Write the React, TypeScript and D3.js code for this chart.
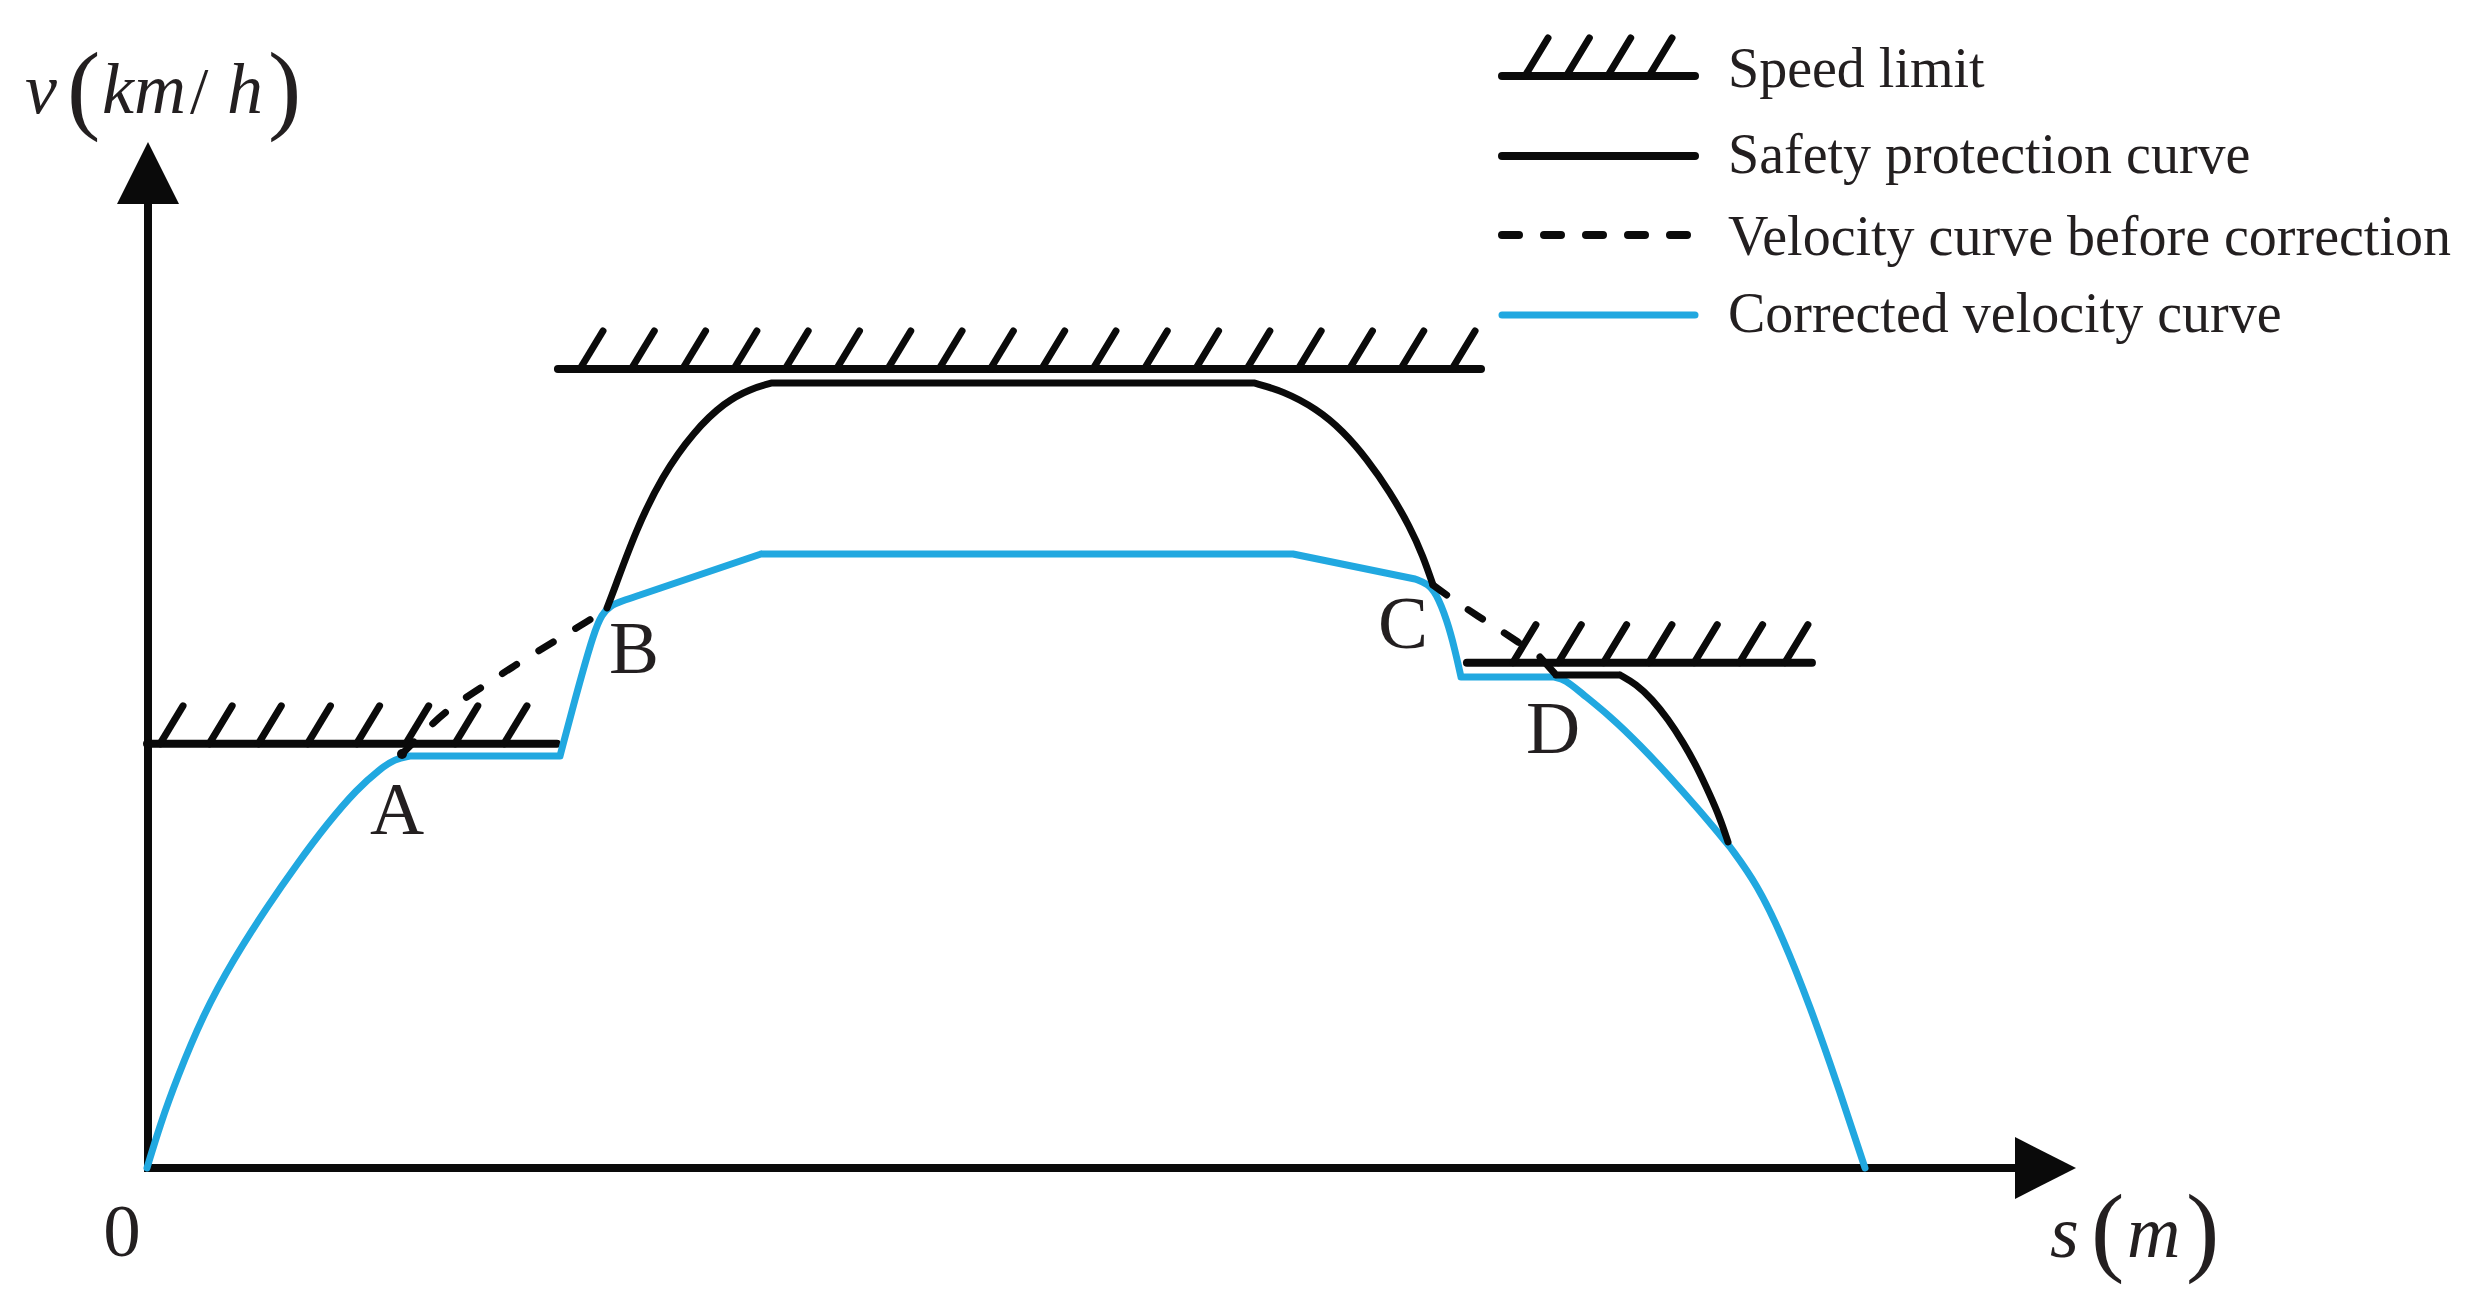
import React from 'react';
import * as d3 from 'd3';

const W = 2478;
const H = 1311;

type P = [number, number];

// ---------- data (s in m, v in km/h) ----------
// Corrected velocity curve, piece by piece (corners between pieces)
const correctedAccel: P[] = [[0, 0], [7.57, 6.46], [17.46, 13.52], [32.6, 22.98], [50.06, 31.24], [69.85, 39.2], [87.31, 45.66], [104.77, 51.67], [122.23, 56.92], [135.62, 59.93], [144.35, 61.43], [153.08, 61.88]];
const correctedHoldA: P[] = [[153.08, 61.88], [240.4, 61.88]];
const correctedRiseB: P[] = [[240.4, 61.88], [250.87, 72.09], [260.19, 80.5], [264.84, 83.21], [269.5, 84.41], [276.48, 85.16], [286.96, 86.06]];
const correctedRamp: P[] = [[286.96, 86.06], [357.39, 92.22]];
const correctedCruise: P[] = [[357.39, 92.22], [667.05, 92.22]];
const correctedSlowC: P[] = [[667.05, 92.22], [738.07, 88.46]];
const correctedDropC: P[] = [[738.07, 88.46], [745.63, 87.71], [750.29, 86.36], [756.69, 82.31], [761.35, 77.8], [764.84, 73.75]];
const correctedHoldD: P[] = [[764.84, 73.75], [818.39, 73.75]];
const correctedBrake1: P[] = [[818.39, 73.75], [825.96, 73.3], [834.11, 71.49], [851.57, 67.89], [869.03, 63.53], [886.5, 58.73], [903.96, 53.62], [921.42, 48.21]];
const correctedBrake2: P[] = [[921.42, 48.21], [937.14, 42.66], [952.27, 34.55], [967.99, 24.33], [983.7, 12.77], [1000, 0]];

// Safety protection curve
const safetyRise: P[] = [[267.75, 84.11], [271.83, 86.81], [284.63, 95.82], [299.77, 103.93], [318.39, 110.69], [336.44, 115.05], [350.99, 117.0], [363.8, 117.9]];
const safetyHold: P[] = [[363.8, 117.9], [644.35, 117.9]];
const safetyDrop: P[] = [[644.35, 117.9], [661.23, 116.7], [681.02, 114.0], [696.16, 110.69], [710.13, 106.49], [723.52, 101.53], [735.16, 96.27], [742.72, 91.92], [748.54, 87.56]];
const safetyToD: P[] = [[810.83, 76.75], [820.14, 74.05]];
const safetyHoldD: P[] = [[820.14, 74.05], [857.39, 74.05]];
const safetyDropD: P[] = [[857.39, 74.05], [866.71, 72.69], [876.02, 70.44], [885.33, 67.44], [894.06, 63.98], [902.21, 60.23], [909.78, 56.02], [915.6, 52.57], [920.26, 48.96]];

// Velocity curve before correction
const beforeAB: P[] = [[148.43, 62.18], [166.47, 66.84], [174.62, 68.64], [185.1, 70.59], [195.0, 72.24], [206.64, 74.2], [215.37, 75.7], [227.01, 77.5], [236.32, 79.0], [247.96, 80.81], [257.86, 82.31], [267.75, 84.11]];
const beforeCD: P[] = [[748.54, 87.56], [759.6, 85.46], [768.33, 83.96], [779.98, 82.01], [789.29, 80.5], [800.35, 78.6], [810.83, 76.75]];

// Speed limits
const limitStartS = [0, 239.2, 768.3];
const limitEndS = [238.6, 776.5, 969.1];
const limitV = [63.7, 120, 75.9];
const limitHatchCount = [8, 18, 7];

// Key points
const pointNames = ['A', 'B', 'C', 'D'];
const pointS = [148.43, 267.75, 748.54, 810.83];
const pointV = [62.18, 84.11, 87.56, 76.75];

const legendLabels = ['Speed limit', 'Safety protection curve', 'Velocity curve before correction', 'Corrected velocity curve'];

// ---------- styles ----------
const BLACK = '#0a0a0a';
const BLUE = '#21a8e0';
const TEXT = '#231f20';
const FONT = '"Liberation Serif", "Times New Roman", serif';
const hatchInsets = [[13, 53], [22, 29], [46, 27]];
const labelStyle = [
  { anchor: 'middle', dx: -5, dy: 80 },
  { anchor: 'start', dx: 2, dy: 65 },
  { anchor: 'end', dx: -5, dy: 63 },
  { anchor: 'middle', dx: 13, dy: 96 },
];

function hatchLines(x0: number, x1: number, y: number, n: number, key: string) {
  const out: JSX.Element[] = [];
  for (let i = 0; i < n; i++) {
    const x = n === 1 ? x0 : x0 + ((x1 - x0) * i) / (n - 1);
    out.push(
      <line key={key + i} x1={x} y1={y} x2={x + 23} y2={y - 38} stroke={BLACK} strokeWidth={7} strokeLinecap="round" />
    );
  }
  return out;
}

export default function App() {
  const xs = d3.scaleLinear().domain([0, 1000]).range([147, 1865]);
  const ys = d3.scaleLinear().domain([0, 120]).range([1168, 369]);
  const smooth = d3.line<P>().x((d) => xs(d[0])).y((d) => ys(d[1])).curve(d3.curveBasis);
  const straight = d3.line<P>().x((d) => xs(d[0])).y((d) => ys(d[1]));
  const pathOf = (pieces: P[][]) =>
    pieces.map((p) => (p.length > 2 ? smooth(p) : straight(p)) || '').join(' ');

  const ox = xs(0);
  const oy = ys(0);

  const legendX0 = 1502;
  const legendX1 = 1695;
  const legendRowY = [76, 156, 235, 315];
  const legendTextY = [87, 173, 255, 332];

  const corrected = pathOf([
    correctedAccel, correctedHoldA, correctedRiseB, correctedRamp, correctedCruise,
    correctedSlowC, correctedDropC, correctedHoldD, correctedBrake1, correctedBrake2,
  ]);
  const safety1 = pathOf([safetyRise, safetyHold, safetyDrop]);
  const safety2 = pathOf([safetyToD, safetyHoldD, safetyDropD]);

  return (
    <svg
      width={W}
      height={H}
      viewBox={`0 0 ${W} ${H}`}
      style={{ position: 'absolute', left: 0, top: 0, background: '#fff' }}
    >
      <rect x={0} y={0} width={W} height={H} fill="#fff" />

      {/* axes */}
      <line x1={ox + 1} y1={oy + 4} x2={ox + 1} y2={200} stroke={BLACK} strokeWidth={8} />
      <polygon points={`${ox + 1},142 ${ox - 30},204 ${ox + 32},204`} fill={BLACK} />
      <line x1={ox - 3} y1={oy} x2={2018} y2={oy} stroke={BLACK} strokeWidth={8} />
      <polygon points={`2076,${oy} 2015,${oy - 31} 2015,${oy + 31}`} fill={BLACK} />

      {/* speed limits */}
      {limitV.map((v, i) => {
        const x0 = xs(limitStartS[i]);
        const x1 = xs(limitEndS[i]);
        const y = ys(v);
        return (
          <g key={'lim' + i}>
            <line x1={x0} y1={y} x2={x1} y2={y} stroke={BLACK} strokeWidth={8} strokeLinecap="round" />
            {hatchLines(x0 + hatchInsets[i][0], x1 - hatchInsets[i][1], y, limitHatchCount[i], 'h' + i)}
          </g>
        );
      })}

      {/* corrected velocity curve */}
      <path d={corrected} fill="none" stroke={BLUE} strokeWidth={7} strokeLinecap="round" strokeLinejoin="round" />

      {/* velocity before correction */}
      <path d={smooth(beforeAB) || ''} fill="none" stroke={BLACK} strokeWidth={7} strokeDasharray="17 26" strokeLinecap="round" />
      <path d={smooth(beforeCD) || ''} fill="none" stroke={BLACK} strokeWidth={7} strokeDasharray="17 26" strokeLinecap="round" />

      {/* safety protection curve */}
      <path d={safety1} fill="none" stroke={BLACK} strokeWidth={7} strokeLinecap="round" strokeLinejoin="round" />
      <path d={safety2} fill="none" stroke={BLACK} strokeWidth={7} strokeLinecap="round" strokeLinejoin="round" />

      {/* point A dot */}
      <circle cx={xs(pointS[0])} cy={ys(pointV[0])} r={5} fill={BLACK} />

      {/* point labels */}
      {pointNames.map((n, i) => (
        <text
          key={n}
          x={xs(pointS[i]) + labelStyle[i].dx}
          y={ys(pointV[i]) + labelStyle[i].dy}
          textAnchor={labelStyle[i].anchor as any}
          fontFamily={FONT}
          fontSize={75}
          fill={TEXT}
        >
          {n}
        </text>
      ))}

      {/* origin label */}
      <text x={122} y={1256} textAnchor="middle" fontFamily={FONT} fontSize={75} fill={TEXT}>0</text>

      {/* y axis label v(km/h) */}
      <text fontFamily={FONT} fill={TEXT}>
        <tspan x={25} y={113} fontSize={72} fontStyle="italic">v</tspan>
        <tspan x={67} y={121} fontSize={100}>(</tspan>
        <tspan x={102} y={113} fontSize={72} fontStyle="italic">km</tspan>
        <tspan x={190} y={113} fontSize={66}>/</tspan>
        <tspan x={227} y={113} fontSize={72} fontStyle="italic">h</tspan>
        <tspan x={268} y={121} fontSize={100}>)</tspan>
      </text>

      {/* x axis label s(m) */}
      <text fontFamily={FONT} fill={TEXT}>
        <tspan x={2050} y={1257} fontSize={74} fontStyle="italic">s</tspan>
        <tspan x={2091} y={1263} fontSize={100}>(</tspan>
        <tspan x={2127} y={1257} fontSize={74} fontStyle="italic">m</tspan>
        <tspan x={2186} y={1263} fontSize={100}>)</tspan>
      </text>

      {/* legend */}
      <g>
        <line x1={legendX0} y1={legendRowY[0]} x2={legendX1} y2={legendRowY[0]} stroke={BLACK} strokeWidth={8} strokeLinecap="round" />
        {hatchLines(1525, 1649, legendRowY[0], 4, 'lh')}
        <line x1={legendX0} y1={legendRowY[1]} x2={legendX1} y2={legendRowY[1]} stroke={BLACK} strokeWidth={8} strokeLinecap="round" />
        <line x1={legendX0} y1={legendRowY[2]} x2={legendX1} y2={legendRowY[2]} stroke={BLACK} strokeWidth={8} strokeLinecap="round" strokeDasharray="17 25" />
        <line x1={legendX0} y1={legendRowY[3]} x2={legendX1} y2={legendRowY[3]} stroke={BLUE} strokeWidth={7} strokeLinecap="round" />
        {legendLabels.map((l, i) => (
          <text key={l} x={1728} y={legendTextY[i]} fontFamily={FONT} fontSize={56} fill={TEXT}>
            {l}
          </text>
        ))}
      </g>
    </svg>
  );
}
